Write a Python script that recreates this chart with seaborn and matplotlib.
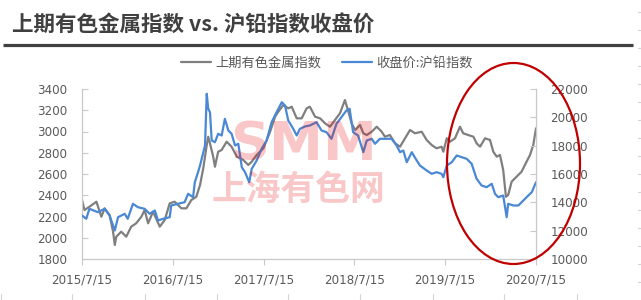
import matplotlib
matplotlib.use("Agg")
import matplotlib.pyplot as plt
import seaborn as sns
import pandas as pd
from matplotlib.patches import Ellipse
from matplotlib.lines import Line2D

# ---------------- data ----------------
title = "上期有色金属指数 vs. 沪铅指数收盘价"
series_names = ["上期有色金属指数", "收盘价:沪铅指数"]
watermark_top = "SMM"
watermark_bottom = "上海有色网"

metal_dates = ["2015-07-15","2015-07-25","2015-08-14","2015-09-11","2015-10-01","2015-10-14","2015-11-03","2015-11-17","2015-11-24","2015-11-30",
               "2015-12-20","2016-01-09","2016-01-29","2016-02-18","2016-03-10","2016-03-23","2016-04-06","2016-04-26","2016-05-23","2016-06-12",
               "2016-07-02","2016-07-22","2016-08-18","2016-09-07","2016-09-27","2016-10-17","2016-11-01","2016-11-14","2016-11-28","2016-12-04",
               "2016-12-11","2016-12-24","2016-12-31","2017-01-13","2017-01-27","2017-02-16","2017-03-08","2017-03-29","2017-04-24","2017-05-14",
               "2017-05-28","2017-06-17","2017-07-14","2017-08-10","2017-08-30","2017-09-12","2017-10-02","2017-10-22","2017-11-05","2017-11-25",
               "2017-12-15","2018-01-04","2018-01-17","2018-02-07","2018-02-27","2018-03-19","2018-04-08","2018-04-28","2018-05-18","2018-06-07",
               "2018-06-21","2018-07-04","2018-07-18","2018-08-07","2018-08-20","2018-09-03","2018-09-23","2018-10-13","2018-11-02","2018-11-15",
               "2018-12-05","2018-12-26","2019-01-15","2019-02-04","2019-02-24","2019-03-16","2019-04-12","2019-05-02","2019-05-22","2019-06-11",
               "2019-07-01","2019-07-08","2019-07-22","2019-08-04","2019-08-24","2019-09-13","2019-09-26","2019-10-16","2019-11-06","2019-11-19",
               "2019-12-03","2019-12-23","2020-01-12","2020-01-25","2020-02-08","2020-02-21","2020-03-05","2020-03-16","2020-03-25","2020-04-08",
               "2020-04-28","2020-05-18","2020-06-07","2020-06-21","2020-07-04","2020-07-15"]
metal_values = [2355,2261,2292,2339,2198,2277,2214,2057,1932,2010,
                2057,2010,2104,2136,2198,2261,2136,2245,2104,2167,
                2324,2339,2277,2277,2355,2386,2496,2654,2873,2951,
                2889,2763,2669,2810,2826,2904,2857,2763,2732,2685,
                2716,2779,2842,2998,3139,3186,3249,3218,3233,3124,
                3124,3218,3233,3139,3124,3077,3045,3108,3171,3296,
                3186,3077,3014,3061,2983,2967,2998,3045,2998,2951,
                2967,2889,2857,2936,3014,2983,2998,2920,2873,2842,
                2857,2810,2936,2904,2936,3045,2983,2967,2951,2889,
                2857,2936,2920,2810,2763,2779,2638,2386,2402,2528,
                2575,2622,2716,2779,2873,3030]

lead_dates = ["2015-07-15","2015-08-01","2015-08-14","2015-09-17","2015-10-14","2015-11-03","2015-11-17","2015-11-24","2015-12-07","2016-01-03",
              "2016-01-15","2016-02-05","2016-02-25","2016-03-23","2016-04-12","2016-05-03","2016-05-16","2016-06-05","2016-07-02","2016-07-08",
              "2016-08-04","2016-08-31","2016-09-14","2016-10-04","2016-10-11","2016-10-24","2016-11-01","2016-11-21","2016-11-28","2016-12-04",
              "2016-12-11","2016-12-18","2016-12-31","2017-01-13","2017-01-27","2017-02-09","2017-02-23","2017-03-08","2017-03-22","2017-04-04",
              "2017-04-18","2017-05-01","2017-05-18","2017-05-28","2017-06-17","2017-07-07","2017-07-27","2017-08-16","2017-09-05","2017-09-26",
              "2017-10-09","2017-10-22","2017-11-11","2017-11-25","2017-12-08","2017-12-28","2018-01-17","2018-02-13","2018-03-05","2018-03-25",
              "2018-04-14","2018-05-04","2018-05-24","2018-06-13","2018-06-26","2018-07-10","2018-07-30","2018-08-20","2018-09-03","2018-09-23",
              "2018-10-06","2018-10-26","2018-11-22","2018-12-12","2019-01-01","2019-01-15","2019-01-28","2019-02-11","2019-03-03","2019-03-23",
              "2019-04-05","2019-05-02","2019-05-22","2019-06-11","2019-07-01","2019-07-08","2019-07-22","2019-08-11","2019-08-31","2019-09-20",
              "2019-10-10","2019-10-30","2019-11-19","2019-12-09","2019-12-29","2020-01-19","2020-02-01","2020-02-14","2020-03-05","2020-03-19",
              "2020-03-25","2020-04-15","2020-05-05","2020-05-25","2020-06-14","2020-06-28","2020-07-15"]
lead_values = [13070,12837,13543,13303,13543,13070,12364,12012,12950,13190,
               12837,13896,13656,13543,13190,13423,12717,12837,12950,13776,
               13896,14009,14602,14362,15421,16127,16600,18012,21661,20602,
               20362,18365,18245,18838,18718,19896,19071,18838,18012,18132,
               16480,16127,15421,16367,16953,17779,18365,19656,20362,21068,
               20835,19776,19191,18718,19191,19353,19423,19656,19071,18951,
               18485,19543,20009,20482,20602,18951,18718,17539,18365,18485,
               18132,18485,18485,18485,18012,17539,17659,16833,17539,16953,
               16600,16247,16014,16127,16014,15774,16600,16833,17306,17186,
               17073,16720,15661,15188,15068,15308,14602,14362,14482,12950,
               13896,13776,13776,14129,14482,14715,15421]

x_tick_dates = ["2015-07-15","2016-07-15","2017-07-15","2018-07-15","2019-07-15","2020-07-15"]
x_tick_labels = ["2015/7/15","2016/7/15","2017/7/15","2018/7/15","2019/7/15","2020/7/15"]
left_ticks = [1800,2000,2200,2400,2600,2800,3000,3200,3400]
right_ticks = [10000,12000,14000,16000,18000,20000,22000]

# ---------------- style ----------------
GRAY = "#7f7f7f"
BLUE = "#4a88d6"
TXT = "#595959"
AXC = "#c9c9c9"

sns.set_theme(style="white")
plt.rcParams["font.family"] = ["DejaVu Sans", "Noto Sans CJK SC"]

W, H = 641, 300
fig = plt.figure(figsize=(W / 100, H / 100), dpi=100)
fig.patch.set_facecolor("white")

ax = fig.add_axes([82 / W, 1 - 259 / H, 454 / W, 170 / H])
ax2 = ax.twinx()

df_metal = pd.DataFrame({"date": pd.to_datetime(metal_dates), "value": metal_values})
df_lead = pd.DataFrame({"date": pd.to_datetime(lead_dates), "value": lead_values})

sns.lineplot(data=df_metal, x="date", y="value", ax=ax, color=GRAY, linewidth=1.6, label=series_names[0])
sns.lineplot(data=df_lead, x="date", y="value", ax=ax2, color=BLUE, linewidth=1.6, label=series_names[1])

for a in (ax, ax2):
    a.set_xlabel("")
    a.set_ylabel("")
    leg = a.get_legend()
    if leg is not None:
        leg.remove()
    a.set_facecolor("none")
    a.grid(False)

ax.set_xlim(pd.Timestamp(x_tick_dates[0]), pd.Timestamp(x_tick_dates[-1]))
ax.set_ylim(left_ticks[0], left_ticks[-1])
ax2.set_ylim(right_ticks[0], right_ticks[-1])
ax.set_xticks(pd.to_datetime(x_tick_dates))
ax.set_xticklabels(x_tick_labels)
ax.set_yticks(left_ticks)
ax.set_yticklabels([str(v) for v in left_ticks])
ax2.set_yticks(right_ticks)
ax2.set_yticklabels([str(v) for v in right_ticks])

ax.tick_params(axis="y", direction="in", length=4, width=0.8, color=AXC, labelcolor=TXT, labelsize=8.6, pad=10.5, left=True)
ax.tick_params(axis="x", direction="out", length=4, width=0.8, color=AXC, labelcolor=TXT, labelsize=8.6, pad=6.5, bottom=True)
ax2.tick_params(axis="y", direction="in", length=4, width=0.8, color=AXC, labelcolor=TXT, labelsize=8.6, pad=10.5, right=True)

for s in ["top", "right"]:
    ax.spines[s].set_visible(False)
for s in ["left", "bottom"]:
    ax.spines[s].set_color(AXC)
    ax.spines[s].set_linewidth(0.9)
for s in ["top", "left", "bottom"]:
    ax2.spines[s].set_visible(False)
ax2.spines["right"].set_color(AXC)
ax2.spines["right"].set_linewidth(0.9)

# legend
handles = [Line2D([], [], color=GRAY, lw=1.6), Line2D([], [], color=BLUE, lw=1.6)]
fig.legend(handles, series_names, loc="center", bbox_to_anchor=(327 / W, 1 - 63 / H), ncol=2,
           frameon=False, labelcolor=TXT, handlelength=2.3, handletextpad=0.35,
           columnspacing=1.5, prop={"family": ["Noto Sans CJK SC", "DejaVu Sans"], "size": 9.5})

# title and rule
fig.text(12 / W, 1 - 24 / H, title, fontsize=15.5, fontweight="bold", color="#404040",
         family=["Noto Sans CJK SC", "DejaVu Sans"], ha="left", va="center")
fig.add_artist(Line2D([3 / W, 633 / W], [1 - 44.5 / H] * 2, lw=2.3, color="#404040", solid_capstyle="butt"))

# watermark (semi-transparent, above the lines)
fig.text(304 / W, 1 - 160 / H, watermark_top, fontsize=39, fontweight="bold",
         family=["DejaVu Sans"], color="#e60000", alpha=0.22,
         ha="center", va="baseline", zorder=10)
fig.text(298.5 / W, 1 - 189 / H, watermark_bottom, fontsize=25, fontweight="bold",
         family=["Noto Sans CJK SC"], color="#e60000", alpha=0.22,
         ha="center", va="center", zorder=10)

# red ellipse highlight
fig.add_artist(Ellipse((513.5 / W, 1 - 163.5 / H), 133 / W, 201 / H, fill=False,
                       edgecolor="#c00000", lw=1.6, transform=fig.transFigure, zorder=11))

# sheet cell marks along the edges
for xp in [0.5, 72, 144.5, 216.5, 288, 360.5, 432.5, 504.5, 576.5]:
    fig.add_artist(Line2D([xp / W] * 2, [0, 6 / H], lw=0.8, color="#d4d4d4"))
for yp in range(12, 290, 18):
    fig.add_artist(Line2D([637.5 / W, 641 / W], [1 - yp / H] * 2, lw=0.8, color="#d4d4d4"))

fig.savefig("out.png", dpi=100, facecolor="white")
